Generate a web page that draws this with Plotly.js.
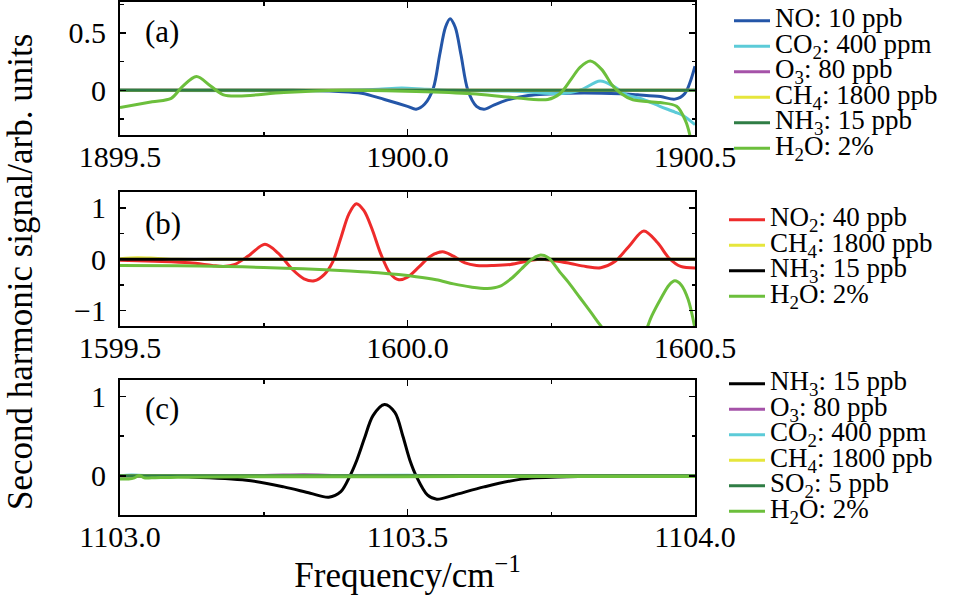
<!DOCTYPE html>
<html>
<head>
<meta charset="utf-8">
<script src="https://cdn.plot.ly/plotly-3.0.1.min.js"></script>
<style>html,body{margin:0;padding:0;background:#fff}#chart{width:958px;height:595px}</style>
</head>
<body>
<div id="chart"></div>
<script>
// ---------- Panel (a): 1899.5 - 1900.5 cm^-1 ----------
const aNO_x  = [1899.5, 1899.6, 1899.7, 1899.8, 1899.88, 1899.92, 1899.96, 1900.0, 1900.015, 1900.03, 1900.045, 1900.056, 1900.066, 1900.074, 1900.083, 1900.093, 1900.105, 1900.12, 1900.133, 1900.15, 1900.17, 1900.21, 1900.28, 1900.37, 1900.40, 1900.44, 1900.465, 1900.482, 1900.5];
const aNO_y  = [0, 0, 0, 0, -0.01, -0.025, -0.08, -0.14, -0.165, -0.12, 0.02, 0.31, 0.55, 0.625, 0.55, 0.31, 0.0, -0.14, -0.165, -0.13, -0.09, -0.045, -0.025, -0.03, -0.04, -0.055, -0.077, -0.03, 0.21];
const aCO2_x = [1899.5, 1899.9, 1899.95, 1899.99, 1900.03, 1900.08, 1900.2, 1900.265, 1900.30, 1900.335, 1900.36, 1900.381, 1900.41, 1900.439, 1900.465, 1900.479, 1900.5];
const aCO2_y = [0, 0, 0.01, 0.02, 0.01, 0, -0.01, -0.03, 0.0, 0.08, 0.03, -0.04, -0.08, -0.14, -0.19, -0.22, -0.30];
const aO3_x  = [1899.5, 1900.0, 1900.5];
const aO3_y  = [0, 0, 0];
const aCH4_x = [1899.5, 1900.0, 1900.5];
const aCH4_y = [0, 0, 0];
const aNH3_x = [1899.5, 1900.0, 1900.5];
const aNH3_y = [0, 0, 0];
const aH2O_x = [1899.5, 1899.556, 1899.589, 1899.608, 1899.633, 1899.657, 1899.68, 1899.707, 1899.785, 1899.884, 1900.015, 1900.113, 1900.179, 1900.244, 1900.265, 1900.285, 1900.30, 1900.318, 1900.338, 1900.355, 1900.37, 1900.392, 1900.439, 1900.468, 1900.483, 1900.491, 1900.497];
const aH2O_y = [-0.15, -0.10, -0.07, 0.03, 0.12, 0.04, -0.04, -0.05, -0.02, 0.0, -0.01, -0.03, -0.06, -0.08, -0.03, 0.10, 0.20, 0.255, 0.18, 0.05, -0.024, -0.083, -0.107, -0.14, -0.26, -0.39, -0.6];

// ---------- Panel (b): 1599.5 - 1600.5 cm^-1 ----------
const bNO2_x = [1599.5, 1599.56, 1599.621, 1599.66, 1599.68, 1599.70, 1599.725, 1599.752, 1599.775, 1599.80, 1599.82, 1599.838, 1599.855, 1599.87, 1599.885, 1599.898, 1599.911, 1599.924, 1599.938, 1599.953, 1599.97, 1599.985, 1600.0, 1600.02, 1600.04, 1600.061, 1600.08, 1600.10, 1600.12, 1600.15, 1600.179, 1600.231, 1600.277, 1600.31, 1600.336, 1600.36, 1600.385, 1600.411, 1600.435, 1600.455, 1600.475, 1600.5];
const bNO2_y = [-0.02, -0.04, -0.07, -0.12, -0.14, -0.10, 0.08, 0.29, 0.12, -0.20, -0.38, -0.42, -0.30, -0.05, 0.45, 0.88, 1.08, 0.95, 0.60, 0.12, -0.28, -0.40, -0.35, -0.15, 0.06, 0.145, 0.06, -0.07, -0.12, -0.12, -0.10, 0.0, -0.07, -0.14, -0.165, -0.05, 0.25, 0.55, 0.32, 0.02, -0.14, -0.17];
const bCH4_x = [1599.5, 1599.53, 1599.56, 1599.6, 1599.7, 1600.0, 1600.5];
const bCH4_y = [0.01, 0.03, 0.02, 0.0, 0, 0, 0];
const bNH3_x = [1599.5, 1600.0, 1600.5];
const bNH3_y = [0, 0, 0];
const bH2O_x = [1599.5, 1599.6, 1599.687, 1599.75, 1599.818, 1599.9, 1599.949, 1600.015, 1600.05, 1600.08, 1600.11, 1600.139, 1600.16, 1600.18, 1600.198, 1600.215, 1600.23, 1600.245, 1600.265, 1600.28, 1600.30, 1600.32, 1600.34, 1600.37, 1600.39, 1600.41, 1600.425, 1600.44, 1600.455, 1600.465, 1600.476, 1600.488, 1600.5];
const bH2O_y = [-0.12, -0.125, -0.14, -0.16, -0.185, -0.23, -0.265, -0.34, -0.40, -0.48, -0.54, -0.57, -0.53, -0.38, -0.19, -0.01, 0.08, 0.03, -0.25, -0.45, -0.75, -1.05, -1.35, -1.7, -1.8, -1.5, -1.1, -0.78, -0.5, -0.42, -0.5, -0.78, -1.35];

// ---------- Panel (c): 1103.0 - 1104.0 cm^-1 ----------
const cNH3_x = [1103.0, 1103.12, 1103.22, 1103.285, 1103.331, 1103.363, 1103.384, 1103.400, 1103.412, 1103.425, 1103.44, 1103.46, 1103.478, 1103.492, 1103.504, 1103.515, 1103.535, 1103.551, 1103.58, 1103.633, 1103.698, 1103.777, 1103.9, 1104.0];
const cNH3_y = [0.0, -0.013, -0.055, -0.14, -0.22, -0.27, -0.2, 0.0, 0.2, 0.47, 0.76, 0.90, 0.80, 0.50, 0.2, 0.0, -0.245, -0.295, -0.245, -0.14, -0.042, -0.013, 0, 0];
const cO3_x  = [1103.0, 1103.25, 1103.32, 1103.4, 1104.0];
const cO3_y  = [0, 0.005, 0.012, 0.004, 0];
const cCO2_x = [1103.0, 1103.02, 1103.05, 1103.5, 1103.55, 1104.0];
const cCO2_y = [0, 0.01, 0, 0.006, 0, 0];
const cCH4_x = [1103.0, 1103.5, 1104.0];
const cCH4_y = [0, 0, 0];
const cSO2_x = [1103.0, 1103.5, 1104.0];
const cSO2_y = [0, 0, 0];
const cH2O_x = [1103.0, 1103.015, 1103.025, 1103.033, 1103.042, 1103.055, 1103.1, 1103.3, 1103.6, 1104.0];
const cH2O_y = [-0.04, -0.04, -0.025, 0.005, -0.025, -0.025, -0.018, -0.012, -0.01, -0.008];

// legend labels
const labA = ['NO: 10 ppb', 'CO<sub>2</sub>: 400 ppm', 'O<sub>3</sub>: 80 ppb', 'CH<sub>4</sub>: 1800 ppb', 'NH<sub>3</sub>: 15 ppb', 'H<sub>2</sub>O: 2%'];
const labB = ['NO<sub>2</sub>: 40 ppb', 'CH<sub>4</sub>: 1800 ppb', 'NH<sub>3</sub>: 15 ppb', 'H<sub>2</sub>O: 2%'];
const labC = ['NH<sub>3</sub>: 15 ppb', 'O<sub>3</sub>: 80 ppb', 'CO<sub>2</sub>: 400 ppm', 'CH<sub>4</sub>: 1800 ppb', 'SO<sub>2</sub>: 5 ppb', 'H<sub>2</sub>O: 2%'];

const COL = {NO:'#2456a8', CO2:'#5ccbd8', O3:'#a552a8', CH4:'#e6e63c', NH3g:'#2f7d45', H2O:'#6cbf3c', NO2:'#ee2b2b', BLK:'#000000'};

const FONT = '"Liberation Serif", "DejaVu Serif", serif';
const W = 958, H = 595;
const LEG_TXT = 27;
const lab = s => '<span style="font-size:' + LEG_TXT + 'px">' + s + '</span>';

function tr(x, y, name, color, xa, ya, leg) {
  return {type:'scatter', mode:'lines', x:x, y:y, name:lab(name), xaxis:xa, yaxis:ya, legend:leg,
          line:{color:color, width:3, shape:'spline', smoothing:0.9}, hoverinfo:'skip'};
}

const data = [
  tr(aNO_x, aNO_y, labA[0], COL.NO, 'x', 'y', 'legend'),
  tr(aCO2_x, aCO2_y, labA[1], COL.CO2, 'x', 'y', 'legend'),
  tr(aO3_x, aO3_y, labA[2], COL.O3, 'x', 'y', 'legend'),
  tr(aCH4_x, aCH4_y, labA[3], COL.CH4, 'x', 'y', 'legend'),
  tr(aNH3_x, aNH3_y, labA[4], COL.NH3g, 'x', 'y', 'legend'),
  tr(aH2O_x, aH2O_y, labA[5], COL.H2O, 'x', 'y', 'legend'),

  tr(bNO2_x, bNO2_y, labB[0], COL.NO2, 'x2', 'y2', 'legend2'),
  tr(bCH4_x, bCH4_y, labB[1], COL.CH4, 'x2', 'y2', 'legend2'),
  tr(bNH3_x, bNH3_y, labB[2], COL.BLK, 'x2', 'y2', 'legend2'),
  tr(bH2O_x, bH2O_y, labB[3], COL.H2O, 'x2', 'y2', 'legend2'),

  tr(cNH3_x, cNH3_y, labC[0], COL.BLK, 'x3', 'y3', 'legend3'),
  tr(cO3_x, cO3_y, labC[1], COL.O3, 'x3', 'y3', 'legend3'),
  tr(cCO2_x, cCO2_y, labC[2], COL.CO2, 'x3', 'y3', 'legend3'),
  tr(cCH4_x, cCH4_y, labC[3], COL.CH4, 'x3', 'y3', 'legend3'),
  tr(cSO2_x, cSO2_y, labC[4], COL.NH3g, 'x3', 'y3', 'legend3'),
  tr(cH2O_x, cH2O_y, labC[5], COL.H2O, 'x3', 'y3', 'legend3')
];

const TICKF = {family:FONT, size:30, color:'#000'};
const common = {showline:true, linewidth:2, linecolor:'#000', mirror:'ticks', ticks:'inside', ticklen:6, tickwidth:1.5, tickcolor:'#000',
  showgrid:false, zeroline:false, tickfont:TICKF, fixedrange:true};
function xax(r, dom, anchor) {
  return Object.assign({}, common, {domain:dom, anchor:anchor, range:r, tick0:r[0], dtick:0.5, tickformat:'.1f', ticklabelstandoff:-6,
    minor:{ticks:'inside', ticklen:3.5, tickwidth:1.5, tickcolor:'#000', dtick:0.25, tick0:r[0], showgrid:false}});
}
function yax(r, dom, anchor, dt, mdt) {
  return Object.assign({}, common, {domain:dom, anchor:anchor, range:r, tick0:0, dtick:dt, ticklabelstandoff:6,
    minor:{ticks:'inside', ticklen:3.5, tickwidth:1.5, tickcolor:'#000', dtick:mdt, tick0:0, showgrid:false}});
}
const XD = [120/W, 695/W];
const layout = {
  width:W, height:H, margin:{l:0, r:0, t:0, b:0}, paper_bgcolor:'#fff', plot_bgcolor:'#fff',
  font:{family:FONT, size:27, color:'#000'}, showlegend:true,
  xaxis: xax([1899.5, 1900.5], XD, 'y'),
  yaxis: yax([-0.39, 0.77], [1-135/H, 1-2/H], 'x', 0.5, 0.25),
  xaxis2: xax([1599.5, 1600.5], XD, 'y2'),
  yaxis2: yax([-1.3, 1.31], [1-326/H, 1-192/H], 'x2', 1, 0.5),
  xaxis3: Object.assign(xax([1103.0, 1104.0], XD, 'y3'), {title:{text:'Frequency/cm<sup>−1</sup>', font:{family:FONT, size:35, color:'#000'}, standoff:8}}),
  yaxis3: yax([-0.495, 1.21], [1-515/H, 1-380/H], 'x3', 1, 0.5),
  legend:  {x:729/W, xanchor:'left', y:1-3/H, yanchor:'top', font:{family:FONT, size:17.3, color:'#000'}, itemwidth:36, bgcolor:'rgba(0,0,0,0)', borderwidth:0},
  legend2: {x:724/W, xanchor:'left', y:1-202/H, yanchor:'top', font:{family:FONT, size:17.3, color:'#000'}, itemwidth:36, bgcolor:'rgba(0,0,0,0)', borderwidth:0},
  legend3: {x:724/W, xanchor:'left', y:1-366/H, yanchor:'top', font:{family:FONT, size:17.3, color:'#000'}, itemwidth:36, bgcolor:'rgba(0,0,0,0)', borderwidth:0},
  annotations:[
    {text:'(a)', xref:'paper', yref:'paper', x:143/W, y:1-31/H, xanchor:'left', yanchor:'middle', showarrow:false, font:{family:FONT, size:31, color:'#000'}},
    {text:'(b)', xref:'paper', yref:'paper', x:143/W, y:1-223/H, xanchor:'left', yanchor:'middle', showarrow:false, font:{family:FONT, size:31, color:'#000'}},
    {text:'(c)', xref:'paper', yref:'paper', x:143/W, y:1-408/H, xanchor:'left', yanchor:'middle', showarrow:false, font:{family:FONT, size:31, color:'#000'}},
    {text:'Second harmonic signal/arb. units', xref:'paper', yref:'paper', x:21/W, y:1-272/H, xanchor:'center', yanchor:'middle', textangle:-90, showarrow:false, font:{family:FONT, size:35, color:'#000'}}
  ]
};
Plotly.newPlot('chart', data, layout, {displayModeBar:false, staticPlot:true});
</script>
</body>
</html>
